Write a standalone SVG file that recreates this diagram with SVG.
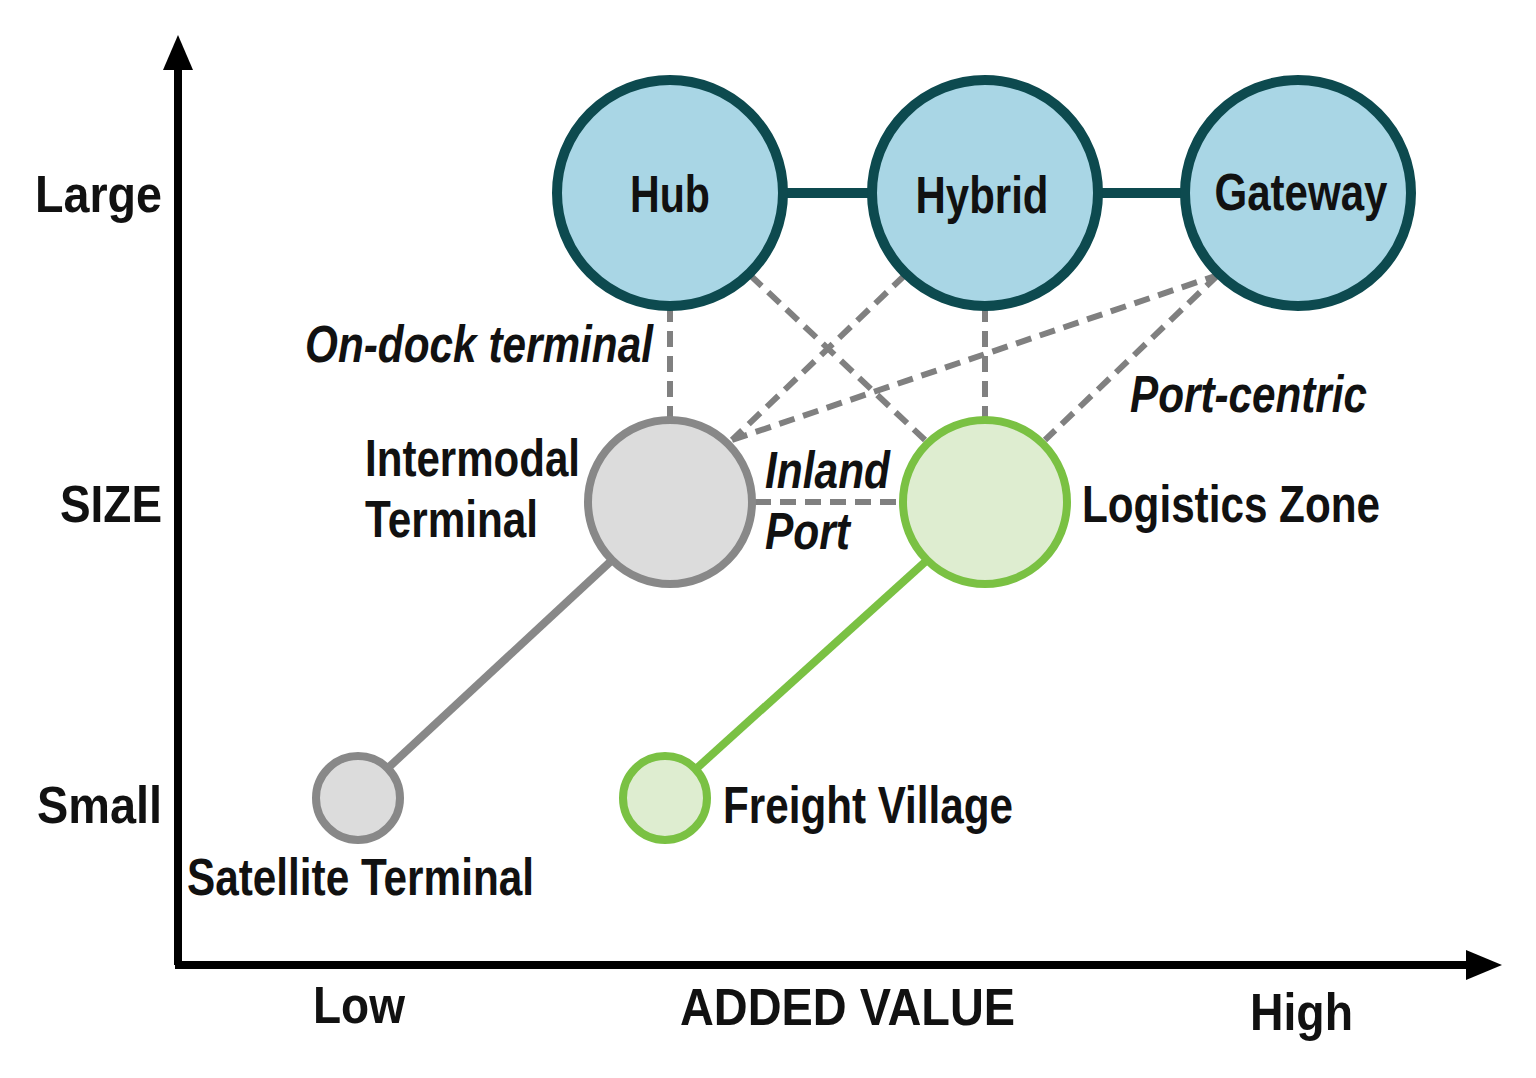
<svg xmlns="http://www.w3.org/2000/svg" width="1536" height="1078" viewBox="0 0 1536 1078">
<style>
text{font-family:"Liberation Sans",Arial,sans-serif;font-weight:bold;font-size:52px;fill:#111}
.i{font-style:italic}
.big{stroke:#0d4a4f;stroke-width:10;fill:#a9d6e5}
.gr{stroke:#888;stroke-width:8;fill:#dcdcdc}
.gn{stroke:#7ac143;stroke-width:8;fill:#deedd0}
.d{stroke:#808080;stroke-width:6;stroke-dasharray:16 9;fill:none}
</style>
<rect width="1536" height="1078" fill="#fff"/>
<g id="axes">
<path d="M178 965V62M175 965H1470" stroke="#000" stroke-width="8" fill="none"/>
<polygon points="178,35 163,70 193,70" fill="#000"/>
<polygon points="1502,965 1466,950 1466,980" fill="#000"/>
</g>
<g id="connectors">
<path d="M780 193H870M1095 193H1185" stroke="#0d4a4f" stroke-width="10"/>
<path d="M388 768L610 562" stroke="#888" stroke-width="8"/>
<path d="M697 768L925 562" stroke="#7ac143" stroke-width="8"/>
<path class="d" d="M670 306V418M750 275L925 440M905 275L732 440M732 440L1218 275M985 306V418M1218 275L1045 440M755 502H900"/>
</g>
<g id="hub"><circle class="big" cx="670" cy="193" r="113"/><text x="670" y="212" text-anchor="middle" textLength="80" lengthAdjust="spacingAndGlyphs">Hub</text></g>
<g id="hybrid"><circle class="big" cx="985" cy="193" r="113"/><text x="982" y="213" text-anchor="middle" textLength="133" lengthAdjust="spacingAndGlyphs">Hybrid</text></g>
<g id="gateway"><circle class="big" cx="1298" cy="193" r="113"/><text x="1301" y="210" text-anchor="middle" textLength="173" lengthAdjust="spacingAndGlyphs">Gateway</text></g>
<g id="intermodal"><circle class="gr" cx="670" cy="502" r="82"/><text x="365" y="476" textLength="215" lengthAdjust="spacingAndGlyphs">Intermodal</text><text x="365" y="537" textLength="173" lengthAdjust="spacingAndGlyphs">Terminal</text></g>
<g id="logistics"><circle class="gn" cx="985" cy="502" r="82"/><text x="1082" y="522" textLength="298" lengthAdjust="spacingAndGlyphs">Logistics Zone</text></g>
<g id="satellite"><circle class="gr" cx="358" cy="798" r="42"/><text x="187" y="895" textLength="347" lengthAdjust="spacingAndGlyphs">Satellite Terminal</text></g>
<g id="freight"><circle class="gn" cx="665" cy="798" r="42"/><text x="723" y="823" textLength="290" lengthAdjust="spacingAndGlyphs">Freight Village</text></g>
<g id="labels">
<text class="i" x="305" y="362" textLength="348" lengthAdjust="spacingAndGlyphs">On-dock terminal</text>
<text class="i" x="765" y="488" textLength="125" lengthAdjust="spacingAndGlyphs">Inland</text>
<text class="i" x="765" y="549" textLength="85" lengthAdjust="spacingAndGlyphs">Port</text>
<text class="i" x="1130" y="412" textLength="237" lengthAdjust="spacingAndGlyphs">Port-centric</text>
<text x="35" y="212" textLength="127" lengthAdjust="spacingAndGlyphs">Large</text>
<text x="60" y="522" textLength="102" lengthAdjust="spacingAndGlyphs">SIZE</text>
<text x="37" y="823" textLength="125" lengthAdjust="spacingAndGlyphs">Small</text>
<text x="313" y="1023" textLength="92" lengthAdjust="spacingAndGlyphs">Low</text>
<text x="680" y="1025" textLength="335" lengthAdjust="spacingAndGlyphs">ADDED VALUE</text>
<text x="1250" y="1030" textLength="103" lengthAdjust="spacingAndGlyphs">High</text>
</g>
</svg>
